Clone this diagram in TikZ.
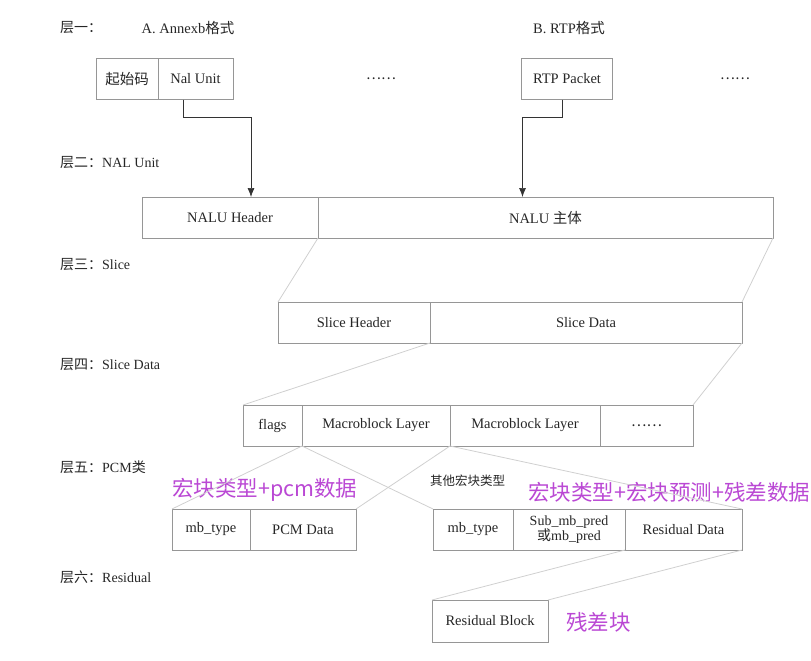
\documentclass[tikz,border=0pt]{standalone}
\usepackage{fontspec}
\setmainfont{Liberation Serif}
\newfontfamily\cjk{Noto Sans CJK SC}
\usetikzlibrary{positioning, arrows.meta}
\definecolor{boxgray}{RGB}{150,150,150}
\definecolor{linegray}{RGB}{208,208,208}
\definecolor{notepurple}{RGB}{186,72,212}
\begin{document}
\begin{tikzpicture}[x=1pt, y=-1pt, >={Latex[length=9pt, width=7pt]},
    cell/.style={draw=boxgray, line width=0.8pt, minimum height=41pt, inner sep=0pt,
      outer sep=0pt, align=center, text=black!85, font=\fontsize{14.5}{16}\selectfont},
    layer/.style={anchor=west, inner sep=0pt, text=black!85, font=\fontsize{14}{16}\selectfont},
    expand/.style={linegray, line width=0.8pt},
    note/.style={anchor=west, inner sep=0pt, text=notepurple, font=\cjk\fontsize{21.5}{24}\selectfont}]
    \useasboundingbox (0,0) rectangle (811,661);

    % 1. Tầng 1: Annexb và RTP
    \node[layer] (l1) at (60,28) {\cjk 层一：};
    \node[text=black!85, font=\fontsize{14.5}{16}\selectfont] (fmtA) at (188,28) {A. Annexb{\cjk 格式}};
    \node[text=black!85, font=\fontsize{14.5}{16}\selectfont] (fmtB) at (569,28) {B. RTP{\cjk 格式}};
    \node[cell, minimum width=62pt] (start) at (127,79) {\cjk 起始码};
    \node[cell, minimum width=75pt, right=0pt of start] (nalunit) {Nal Unit};
    \node[cell, minimum width=91pt] (rtp) at (567,79) {RTP Packet};
    \node[text=black!85, font=\cjk\fontsize{14}{16}\selectfont] (dotsA) at (381,79) {……};
    \node[text=black!85, font=\cjk\fontsize{14}{16}\selectfont] (dotsB) at (735,79) {……};

    % 2. Tầng 2: NAL Unit
    \node[layer] (l2) at (60,163) {{\cjk 层二：}NAL Unit};
    \node[cell, minimum width=176pt] (nhdr) at (230,217.5) {NALU Header};
    \node[cell, minimum width=455pt, right=0pt of nhdr] (nbody) {NALU {\cjk 主体}};

    % Mũi tên từ tầng 1 xuống
    \draw[->, black!80, line width=0.7pt] ([xshift=-12pt]nalunit.south) -- ++(0,18) -| ([xshift=21pt]nhdr.north);
    \draw[->, black!80, line width=0.7pt] ([xshift=-5pt]rtp.south) -- ++(0,18) -| ([xshift=-23pt]nbody.north);

    % 3. Tầng 3: Slice
    \node[layer] (l3) at (60,265) {{\cjk 层三：}Slice};
    \node[cell, minimum width=152pt] (shdr) at (354,322.5) {Slice Header};
    \node[cell, minimum width=312pt, right=0pt of shdr] (sdata) {Slice Data};
    \draw[expand] (nbody.south west) -- (shdr.north west);
    \draw[expand] (nbody.south east) -- (sdata.north east);

    % 4. Tầng 4: Slice Data
    \node[layer] (l4) at (60,365) {{\cjk 层四：}Slice Data};
    \node[cell, minimum width=59pt] (flags) at (272.5,425.5) {flags};
    \node[cell, minimum width=148pt, right=0pt of flags] (mbl1) {Macroblock Layer};
    \node[cell, minimum width=150pt, right=0pt of mbl1] (mbl2) {Macroblock Layer};
    \node[cell, minimum width=93pt, right=0pt of mbl2] (more) {\cjk ……};
    \draw[expand] (sdata.south west) -- (flags.north west);
    \draw[expand] (sdata.south east) -- (more.north east);

    % 5. Tầng 5: PCM và các loại macroblock khác
    \node[layer] (l5) at (60,467) {{\cjk 层五：}PCM{\cjk 类}};
    \node[note] (noteA) at (172,490) {宏块类型+pcm数据};
    \node[anchor=west, inner sep=0pt, text=black!85, font=\cjk\fontsize{12.5}{14}\selectfont] (other) at (430,481) {其他宏块类型};
    \node[note] (noteB) at (528,492) {宏块类型+宏块预测+残差数据};
    \node[cell, minimum width=78pt] (mbtA) at (211,529.5) {mb\_type};
    \node[cell, minimum width=106pt, right=0pt of mbtA] (pcm) {PCM Data};
    \node[cell, minimum width=80pt] (mbtB) at (473,529.5) {mb\_type};
    \node[cell, minimum width=112pt, right=0pt of mbtB, font=\fontsize{14}{15}\selectfont] (pred) {Sub\_mb\_pred\\{\cjk 或}mb\_pred};
    \node[cell, minimum width=117pt, right=0pt of pred] (resid) {Residual Data};
    \draw[expand] (mbl1.south west) -- (mbtA.north west);
    \draw[expand] (mbl1.south west) -- (mbtB.north west);
    \draw[expand] (mbl1.south east) -- (pcm.north east);
    \draw[expand] (mbl1.south east) -- (resid.north east);

    % 6. Tầng 6: Residual
    \node[layer] (l6) at (60,577) {{\cjk 层六：}Residual};
    \node[cell, minimum width=116pt, minimum height=42pt] (rblock) at (490,621) {Residual Block};
    \node[note] (noteC) at (566,622) {残差块};
    \draw[expand] (resid.south west) -- (rblock.north west);
    \draw[expand] (resid.south east) -- (rblock.north east);
\end{tikzpicture}
\end{document}
